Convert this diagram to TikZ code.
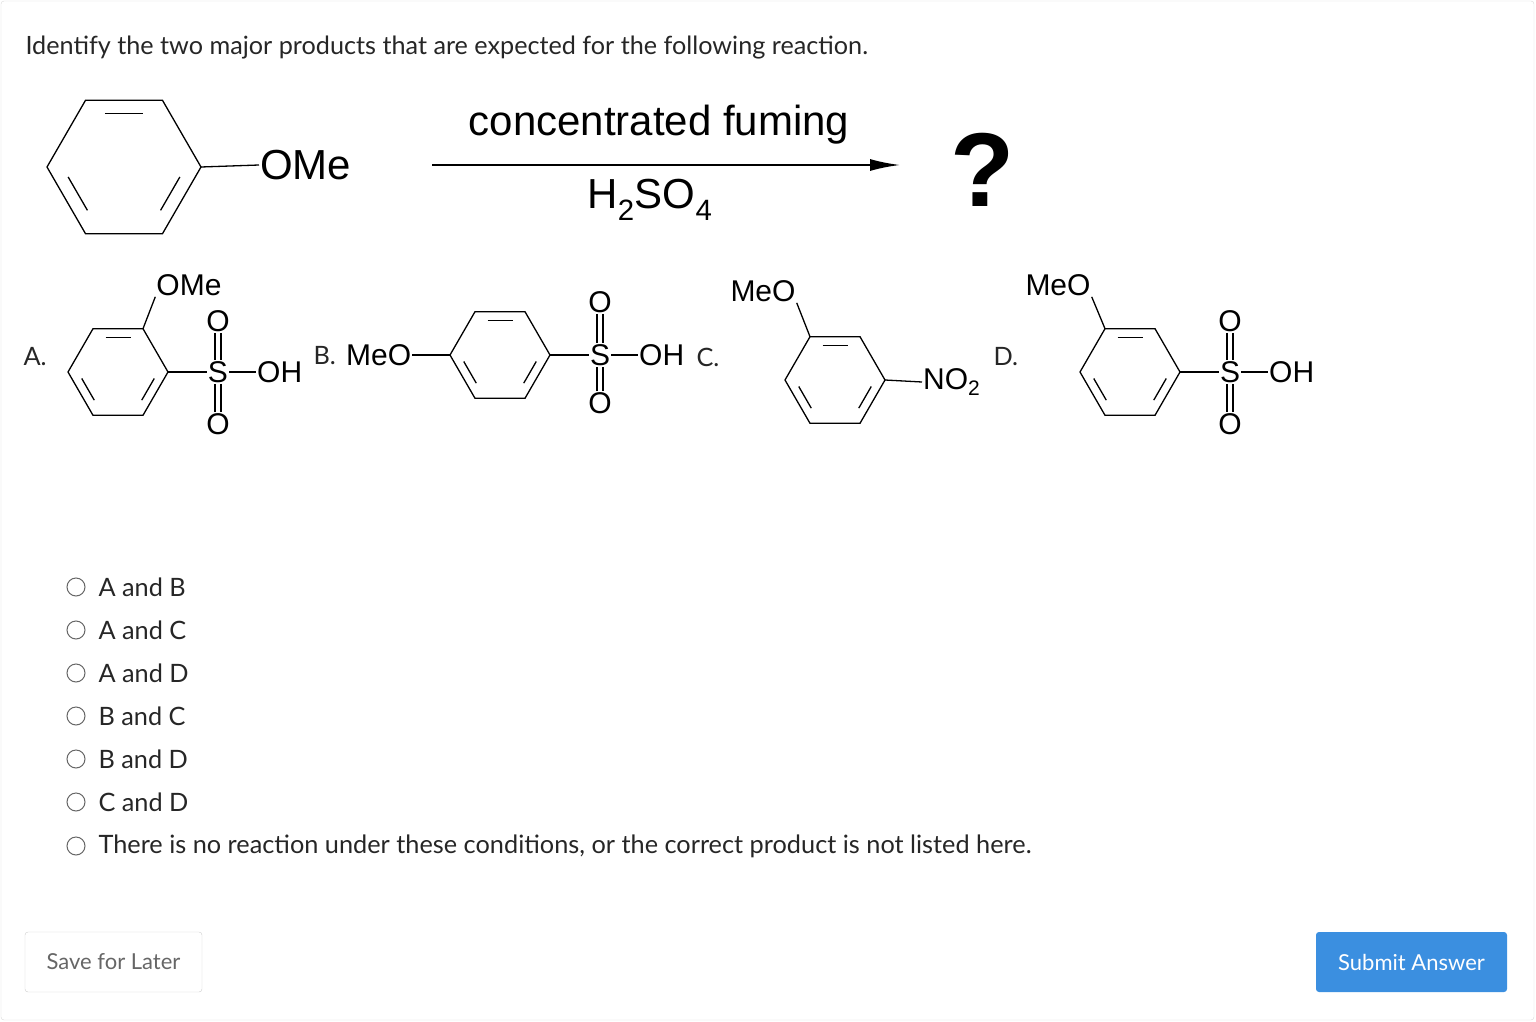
\documentclass[tikz,border=0pt]{standalone}
\usepackage{fontspec}
\setmainfont{Lato}
\newfontfamily\chem{Liberation Sans}
\usetikzlibrary{calc,arrows.meta}
\newcommand\benzring[4]{%
 \begin{scope}[shift={(#1,#2)}]
 \coordinate (#4) at (0,0);
 \foreach \k in {0,...,5}{\coordinate (#4-\k) at (\k*60:#3);}
 \draw[bondline] (#4-0)--(#4-1)--(#4-2)--(#4-3)--(#4-4)--(#4-5)--cycle;
 \foreach \a/\b in {4/5,0/1,2/3}{\draw[bondline,shorten <=0.15*#3,shorten >=0.15*#3] ($(#4)!0.8!(#4-\a)$)--($(#4)!0.8!(#4-\b)$);}
 \end{scope}}
\tikzset{bondline/.style={line width=1.3pt},
 lab/.style={font=\chem\fontsize{30}{30}\selectfont,inner sep=1pt},
 opt/.style={font=\fontsize{25.3}{25.3}\selectfont,anchor=west,text=black!85},
 radio/.style={draw=black!60,line width=1pt,circle,minimum size=18pt,inner sep=0pt}}
\begin{document}
\begin{tikzpicture}[x=1pt,y=-1pt]
\useasboundingbox (0,0) rectangle (1536,1022);
\draw[black!15,rounded corners=3pt] (1,1) rectangle (1534,1020);
\node[anchor=west,font=\fontsize{25.2}{25.2}\selectfont,text=black!85] (q) at (22,48) {Identify the two major products that are expected for the following reaction.};
% reactant
\benzring{124}{167}{77}{r}
\node[font=\chem\fontsize{42}{42}\selectfont,anchor=west,inner sep=1pt] (rome) at (259,165) {OMe};
\draw[bondline] (r-0)--(rome.west);
\coordinate (a1) at (432,165); \coordinate (a2) at (900,165);
\draw[line width=2pt,-{Latex[length=30pt,width=12pt]}] (a1)--(a2);
\node[font=\chem\fontsize{42}{42}\selectfont] (cf) at (659,125) {concentrated fuming};
\node[font=\chem\fontsize{42}{42}\selectfont] (hs) at (650,200) {H\textsubscript{2}SO\textsubscript{4}};
\node[font=\chem\bfseries\fontsize{105}{105}\selectfont] (qm) at (983,170) {?};
% A
\node[opt] (la) at (20,357) {A.};
\benzring{118}{372}{50}{A}
\node[lab] (aome) at (189,285) {OMe};
\draw[bondline] (A-5)--(aome.south west);
\node[lab] (as) at (218,372) {S};
\node[lab] (ao1) at (218,321) {O};
\node[lab] (ao2) at (218,424) {O};
\node[lab,anchor=west] (aoh) at (256,372) {OH};
\draw[bondline] (A-0)--(as.west); \draw[bondline] (as.east)--(aoh.west);
\draw[bondline] ([xshift=-3pt]ao1.south)--([xshift=-3pt]as.north) ([xshift=3pt]ao1.south)--([xshift=3pt]as.north);
\draw[bondline] ([xshift=-3pt]ao2.north)--([xshift=-3pt]as.south) ([xshift=3pt]ao2.north)--([xshift=3pt]as.south);
% B
\node[opt] (lb) at (310,356) {B.};
\node[lab,anchor=west] (bmeo) at (345,355) {MeO};
\benzring{500}{355}{50}{B}
\draw[bondline] (bmeo.east)--(B-3);
\node[lab] (bs) at (600,355) {S};
\node[lab] (bo1) at (600,302) {O};
\node[lab] (bo2) at (600,403) {O};
\node[lab,anchor=west] (boh) at (638,355) {OH};
\draw[bondline] (B-0)--(bs.west); \draw[bondline] (bs.east)--(boh.west);
\draw[bondline] ([xshift=-3pt]bo1.south)--([xshift=-3pt]bs.north) ([xshift=3pt]bo1.south)--([xshift=3pt]bs.north);
\draw[bondline] ([xshift=-3pt]bo2.north)--([xshift=-3pt]bs.south) ([xshift=3pt]bo2.north)--([xshift=3pt]bs.south);
% C
\node[opt] (lc) at (693,357) {C.};
\node[lab] (cmeo) at (763,291) {MeO};
\benzring{835}{380}{50}{C}
\draw[bondline] (C-4)--(cmeo.south east);
\node[lab,anchor=west] (cno) at (922,382) {NO\textsubscript{2}};
\draw[bondline] (C-0)--(cno.west);
% D
\node[opt] (ld) at (990,357) {D.};
\node[lab] (dmeo) at (1058,285) {MeO};
\benzring{1130}{372}{50}{D}
\draw[bondline] (D-4)--(dmeo.south east);
\node[lab] (ds) at (1230,372) {S};
\node[lab] (do1) at (1230,321) {O};
\node[lab] (do2) at (1230,424) {O};
\node[lab,anchor=west] (doh) at (1268,372) {OH};
\draw[bondline] (D-0)--(ds.west); \draw[bondline] (ds.east)--(doh.west);
\draw[bondline] ([xshift=-3pt]do1.south)--([xshift=-3pt]ds.north) ([xshift=3pt]do1.south)--([xshift=3pt]ds.north);
\draw[bondline] ([xshift=-3pt]do2.north)--([xshift=-3pt]ds.south) ([xshift=3pt]do2.north)--([xshift=3pt]ds.south);
% options
\foreach \y/\t [count=\i] in {587/A and B,630/A and C,673/A and D,716/B and C,759/B and D,802/C and D,846/{There is no reaction under these conditions, or the correct product is not listed here.}}{
 \node[radio] (r\i) at (76,\y) {};
 \node[opt] (t\i) at (95,\y) {\t};}
% buttons
\draw[black!20,rounded corners=3pt] (25,932) rectangle (202,992);
\node[font=\fontsize{22}{22}\selectfont,text=black!60] (save) at (113.5,962) {Save for Later};
\fill[fill={rgb,255:red,59;green,143;blue,224},rounded corners=3pt] (1316,932) rectangle (1507,992);
\node[font=\fontsize{22}{22}\selectfont,text=white] (sub) at (1411.5,962) {Submit Answer};
\end{tikzpicture}
\end{document}
